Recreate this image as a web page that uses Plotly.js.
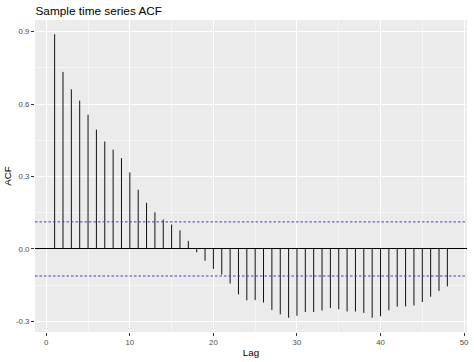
<!DOCTYPE html>
<html>
<head>
<meta charset="utf-8">
<script src="https://cdn.plot.ly/plotly-3.0.1.min.js"></script>
<style>html,body{margin:0;padding:0;background:#fff;}#chart{width:474px;height:362px;}</style>
</head>
<body>
<div id="chart"></div>
<script>
const lags = [1,2,3,4,5,6,7,8,9,10,11,12,13,14,15,16,17,18,19,20,21,22,23,24,
              25,26,27,28,29,30,31,32,33,34,35,36,37,38,39,40,41,42,43,44,45,46,47,48];
const acfValues = [0.889,0.733,0.661,0.614,0.556,0.494,0.445,0.411,0.376,0.317,
                   0.245,0.191,0.152,0.122,0.101,0.077,0.033,-0.014,-0.049,-0.083,
                   -0.106,-0.143,-0.188,-0.213,-0.212,-0.222,-0.253,-0.271,-0.285,-0.277,
                   -0.261,-0.261,-0.255,-0.245,-0.250,-0.259,-0.259,-0.265,-0.285,-0.279,
                   -0.254,-0.239,-0.238,-0.234,-0.220,-0.198,-0.174,-0.155];
const ciBound = 0.112;
const yTickVals = [-0.3, 0.0, 0.3, 0.6, 0.9];
const yTickText = ["-0.3", "0.0", "0.3", "0.6", "0.9"];
const xTickVals = [0, 10, 20, 30, 40, 50];
const xTickText = ["0", "10", "20", "30", "40", "50"];

const segX = [], segY = [];
lags.forEach((l, i) => { segX.push(l, l, null); segY.push(0, acfValues[i], null); });

const font = "Liberation Sans, Arial, sans-serif";
const data = [{
  type: 'scatter', mode: 'lines', x: segX, y: segY,
  line: {color: '#111111', width: 1}, hoverinfo: 'skip', showlegend: false
}];

const layout = {
  width: 474, height: 362,
  margin: {l: 35, r: 6.5, t: 20, b: 30, pad: 0},
  paper_bgcolor: '#ffffff', plot_bgcolor: '#EBEBEB',
  font: {family: font, color: '#000'},
  title: {text: 'Sample time series ACF', x: 35.5/474, xanchor: 'left', xref: 'container',
          y: 1 - 10.5/362, yanchor: 'middle', yref: 'container',
          font: {family: font, size: 11.8, color: '#000'}},
  xaxis: {
    range: [-1.35, 50.35], tickvals: xTickVals, ticktext: xTickText,
    showgrid: true, gridcolor: '#FFFFFF', gridwidth: 1,
    minor: {dtick: 5, tick0: 0, showgrid: true, gridcolor: '#FFFFFF', gridwidth: 0.5},
    zeroline: false, showline: false,
    ticks: 'outside', ticklen: 3, tickwidth: 1, tickcolor: '#333333',
    tickfont: {family: font, size: 7.8, color: '#4D4D4D'},
    title: {text: 'Lag', font: {family: font, size: 9.8, color: '#000'}, standoff: 2},
    automargin: false
  },
  yaxis: {
    range: [-0.344, 0.948], tickvals: yTickVals, ticktext: yTickText,
    showgrid: true, gridcolor: '#FFFFFF', gridwidth: 1,
    minor: {dtick: 0.15, tick0: 0, showgrid: true, gridcolor: '#FFFFFF', gridwidth: 0.5},
    zeroline: true, zerolinecolor: '#000000', zerolinewidth: 1,
    showline: false,
    ticks: 'outside', ticklen: 3, tickwidth: 1, tickcolor: '#333333',
    tickfont: {family: font, size: 7.8, color: '#4D4D4D'},
    title: {text: 'ACF', font: {family: font, size: 9.8, color: '#000'}, standoff: 2},
    automargin: false
  },
  shapes: [ciBound, -ciBound].map(v => ({
    type: 'line', xref: 'paper', x0: 0, x1: 1, yref: 'y', y0: v, y1: v,
    line: {color: '#4040C0', width: 1, dash: '2.5px,2px'}, layer: 'above'
  }))
};

Plotly.newPlot('chart', data, layout, {displayModeBar: false, staticPlot: true});
</script>
</body>
</html>
